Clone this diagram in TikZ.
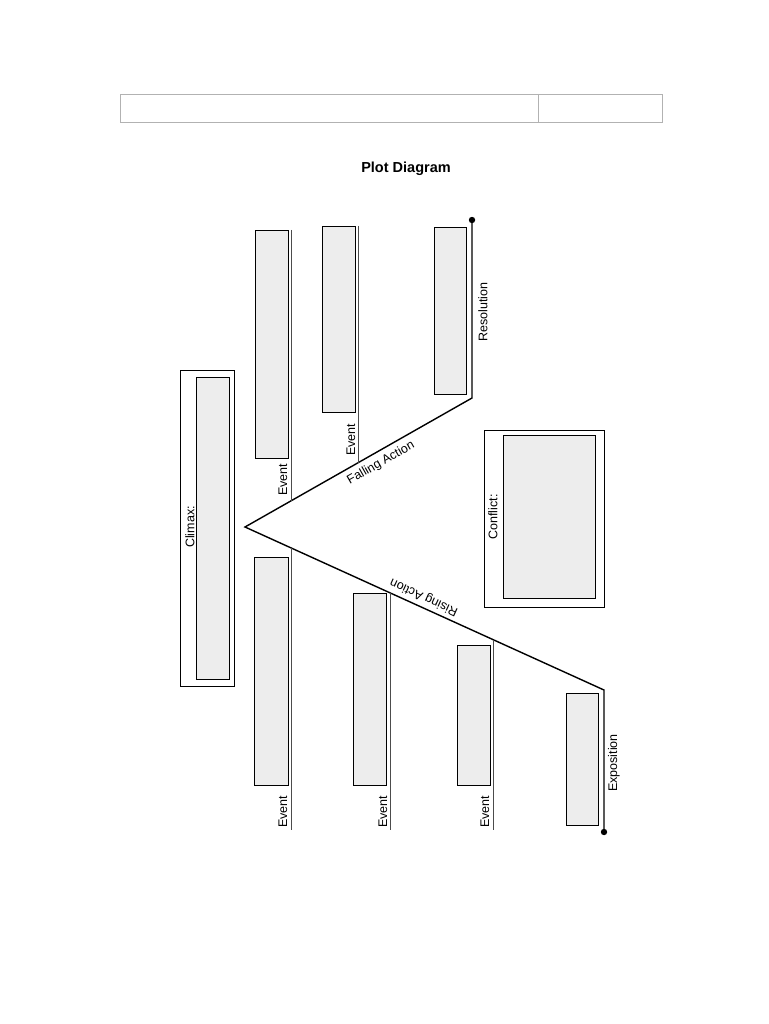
\documentclass[tikz,border=0pt]{standalone}
\usepackage{fontspec}
\setmainfont{Liberation Sans}
\begin{document}
\begin{tikzpicture}[x=1pt,y=-1pt,
  gbox/.style={draw=black,fill=gray!14,line width=0.8pt},
  obox/.style={draw=black,line width=0.8pt},
  eline/.style={draw=black!70,line width=0.9pt},
  plot/.style={line width=1.4pt},
  lab/.style={font=\fontsize{12.5}{14}\selectfont,inner sep=1pt}]
\useasboundingbox (0,0) rectangle (768,1024);
% top table
\draw[gray!60,line width=0.6pt] (120,94) rectangle (662,122);
\draw[gray!60,line width=0.6pt] (538,94) -- (538,122);
\node[font=\bfseries\fontsize{14.5}{16}\selectfont] (title) at (406,169) {Plot Diagram};
% plot line
\coordinate (res) at (472,220);
\coordinate (rb) at (472,398);
\coordinate (cl) at (245,527);
\coordinate (eb) at (604,690);
\coordinate (ex) at (604,832);
\draw[plot] (res) -- (rb) -- (cl) -- (eb) -- (ex);
\fill (res) circle (3.2);
\fill (ex) circle (3.2);
\node[lab,rotate=90] (resl) at (483,312) {Resolution};
\node[lab,rotate=90] (expl) at (614,763) {Exposition};
\node[lab,rotate=29.6] (fal) at (381,463) {Falling Action};
\node[lab,rotate=155.6] (ris) at (424,597) {Rising Action};
% top event boxes
\node[gbox,minimum width=33,minimum height=228,inner sep=0] (e1) at (271.5,344) {};
\draw[eline] (291,230) -- (291,501);
\node[lab,rotate=90] (e1l) at (283,480) {Event};
\node[gbox,minimum width=33,minimum height=186,inner sep=0] (e2) at (338.5,319) {};
\draw[eline] (358,226) -- (358,463);
\node[lab,rotate=90] (e2l) at (351,440) {Event};
\node[gbox,minimum width=32,minimum height=167,inner sep=0] (e3) at (450,310.5) {};
% bottom event boxes
\node[gbox,minimum width=34,minimum height=228,inner sep=0] (b1) at (271,671) {};
\draw[eline] (291,548) -- (291,830);
\node[lab,rotate=90] (b1l) at (283,812) {Event};
\node[gbox,minimum width=33,minimum height=192,inner sep=0] (b2) at (369.5,689) {};
\draw[eline] (390,593) -- (390,830);
\node[lab,rotate=90] (b2l) at (383,812) {Event};
\node[gbox,minimum width=33,minimum height=140,inner sep=0] (b3) at (473.5,715) {};
\draw[eline] (493,640) -- (493,830);
\node[lab,rotate=90] (b3l) at (485,812) {Event};
\node[gbox,minimum width=32,minimum height=132,inner sep=0] (b4) at (582,759) {};
% climax
\node[obox,minimum width=54,minimum height=316,inner sep=0] (clo) at (207,528) {};
\node[gbox,minimum width=33,minimum height=302,inner sep=0] (cli) at (212.5,528) {};
\node[lab,rotate=90] (cll) at (190,527) {Climax:};
% conflict
\node[obox,minimum width=120,minimum height=177,inner sep=0] (coo) at (544,518.5) {};
\node[gbox,minimum width=92,minimum height=163,inner sep=0] (coi) at (549,516.5) {};
\node[lab,rotate=90] (col) at (493,517) {Conflict:};
\end{tikzpicture}
\end{document}
